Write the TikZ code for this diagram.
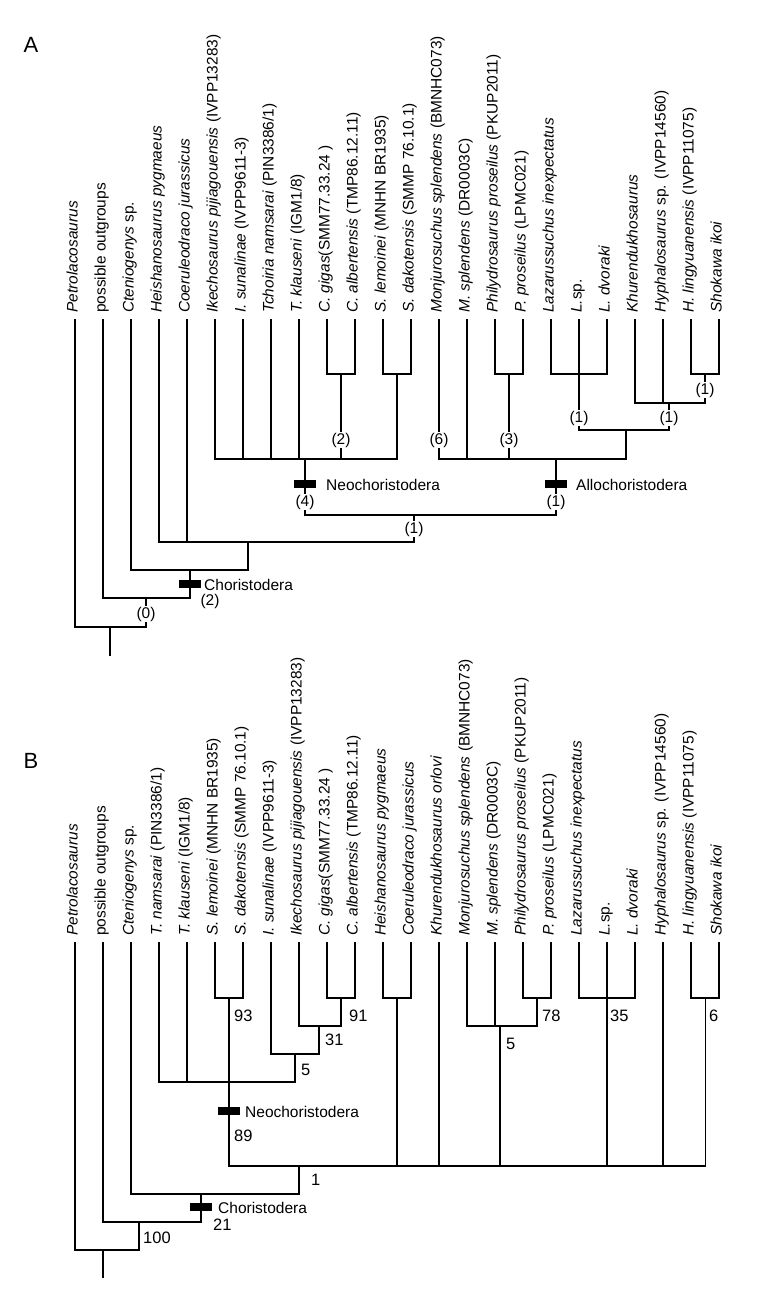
\documentclass[tikz,border=0pt]{standalone}
\usepackage{fontspec}
\setmainfont{Liberation Sans}
\begin{document}
\begin{tikzpicture}[x=1pt,y=-1pt,
  br/.style={line width=1.3pt, line cap=rect},
  thinbr/.style={line width=0.7pt},
  tiplab/.style={rotate=90, xscale=1.01, anchor=mid west, inner sep=0pt, font=\fontsize{15.3}{18}\selectfont},
  num/.style={inner sep=0.6pt, fill=white, font=\fontsize{15.5}{18}\selectfont},
  bnum/.style={anchor=west, inner sep=0pt, font=\fontsize{16.5}{19}\selectfont},
  bar/.style={fill=black, draw=none, minimum width=22pt, minimum height=8pt, inner sep=0pt},
  cladelab/.style={anchor=west, inner sep=0pt, font=\fontsize{15.5}{18}\selectfont},
  panel/.style={font=\fontsize{22}{26}\selectfont, inner sep=0pt}]
\useasboundingbox (0,0) rectangle (764,1300);

\node[panel] (labA) at (31,45) {A};
\node[panel] (labB) at (31,761) {B};

% ---------------- Panel A tips ----------------
\foreach \i/\t in {
 1/{\textit{Petrolacosaurus}},
 2/{possible outgroups},
 3/{\textit{Cteniogenys} sp.},
 4/{\textit{Heishanosaurus pygmaeus}},
 5/{\textit{Coeruleodraco jurassicus}},
 6/{\textit{Ikechosaurus pijiagouensis} (IVPP13283)},
 7/{\textit{I. sunalinae} (IVPP9611-3)},
 8/{\textit{Tchoiria namsarai} (PIN3386/1)},
 9/{\textit{T. klauseni} (IGM1/8)},
 10/{\textit{C. gigas}(SMM77.33.24 )},
 11/{\textit{C. albertensis} (TMP86.12.11)},
 12/{\textit{S. lemoinei} (MNHN BR1935)},
 13/{\textit{S. dakotensis} (SMMP 76.10.1)},
 14/{\textit{Monjurosuchus splendens} (BMNHC073)},
 15/{\textit{M. splendens} (DR0003C)},
 16/{\textit{Philydrosaurus proseilus} (PKUP2011)},
 17/{\textit{P. proseilus} (LPMC021)},
 18/{\textit{Lazarussuchus inexpectatus}},
 19/{\textit{L.}sp.},
 20/{\textit{L. dvoraki}},
 21/{\textit{Khurendukhosaurus}},
 22/{\textit{Hyphalosaurus} sp. (IVPP14560)},
 23/{\textit{H. lingyuanensis} (IVPP11075)},
 24/{\textit{Shokawa ikoi}}}
{
 \pgfmathsetmacro{\xx}{75+28*(\i-1)}
 \node[tiplab] (aL\i) at (\xx,313) {\t};
 \coordinate (aT\i) at (\xx,320);
}

% Panel A internal nodes
\coordinate (aC) at (341,374);
\coordinate (aS) at (397,374);
\coordinate (aP) at (509,374);
\coordinate (aLz) at (579,374);
\coordinate (aH) at (705,374);
\coordinate (aHy) at (669,403);
\coordinate (aLH) at (626,430);
\coordinate (aNeo) at (305,459);
\coordinate (aAllo) at (556,459);
\coordinate (aNA) at (414,515);
\coordinate (aHC) at (248,542);
\coordinate (aCh) at (190,570);
\coordinate (aO) at (146,598);
\coordinate (aR) at (110,627);
\coordinate (aRs) at (110,655);

% pairs
\draw[br] (aT10) -- (aT10 |- aC) -- (aT11 |- aC) -- (aT11);
\draw[br] (aT12) -- (aT12 |- aS) -- (aT13 |- aS) -- (aT13);
\draw[br] (aT16) -- (aT16 |- aP) -- (aT17 |- aP) -- (aT17);
\draw[br] (aT18) -- (aT18 |- aLz) -- (aT20 |- aLz) -- (aT20);
\draw[br] (aT19) -- (aLz);
\draw[br] (aT23) -- (aT23 |- aH) -- (aT24 |- aH) -- (aT24);
% Hyphalosaurus clade
\draw[br] (aT21) -- (aT21 |- aHy) -- (aH |- aHy) -- (aH);
\draw[br] (aT22) -- (aT22 |- aHy);
% Lazarussuchus + Hyphalosaurus
\draw[br] (aLz) -- (aLz |- aLH) -- (aHy |- aLH) -- (aHy);
% Neochoristodera
\draw[br] (aT6) -- (aT6 |- aNeo) -- (aS |- aNeo) -- (aS);
\foreach \k in {7,8,9} \draw[br] (aT\k) -- (aT\k |- aNeo);
\draw[br] (aC) -- (aC |- aNeo);
% Allochoristodera
\draw[br] (aT14) -- (aT14 |- aAllo) -- (aLH |- aAllo) -- (aLH);
\draw[br] (aT15) -- (aT15 |- aAllo);
\draw[br] (aP) -- (aP |- aAllo);
% Neo + Allo
\draw[br] (aNeo) -- (aNeo |- aNA) -- (aAllo |- aNA) -- (aAllo);
% Heishanosaurus, Coeruleodraco + rest
\draw[br] (aT4) -- (aT4 |- aHC) -- (aNA |- aHC) -- (aNA);
\draw[br] (aT5) -- (aT5 |- aHC);
% Choristodera
\draw[br] (aT3) -- (aT3 |- aCh) -- (aHC |- aCh) -- (aHC);
\draw[br] (aT2) -- (aT2 |- aO) -- (aCh |- aO) -- (aCh);
\draw[br] (aT1) -- (aT1 |- aR) -- (aO |- aR) -- (aO);
\draw[br] (aR) -- (aRs);

% Panel A labels
\node[num] (aq0) at (146,614) {(0)};
\node[num] (aq2c) at (341,440) {(2)};
\node[num] (aq6) at (439,440) {(6)};
\node[num] (aq3) at (509,440) {(3)};
\node[num] (aq1l) at (579,418) {(1)};
\node[num] (aq1y) at (669,418) {(1)};
\node[num] (aq1h) at (705,390) {(1)};
\node[num] (aq4) at (305,502) {(4)};
\node[num] (aq1a) at (556,502) {(1)};
\node[num] (aq1n) at (414,529) {(1)};
\node[num] (aq2ch) at (210,601) {(2)};
\node[bar] (aBarCh) at (190,584) {};
\node[cladelab] (aChLab) at (204,585) {Choristodera};
\node[bar] (aBarNeo) at (305,484) {};
\node[cladelab] (aNeoLab) at (326,485) {Neochoristodera};
\node[bar] (aBarAllo) at (556,484) {};
\node[cladelab] (aAlloLab) at (576,485) {Allochoristodera};

% ---------------- Panel B tips ----------------
\foreach \i/\t in {
 1/{\textit{Petrolacosaurus}},
 2/{possible outgroups},
 3/{\textit{Cteniogenys} sp.},
 4/{\textit{T. namsarai} (PIN3386/1)},
 5/{\textit{T. klauseni} (IGM1/8)},
 6/{\textit{S. lemoinei} (MNHN BR1935)},
 7/{\textit{S. dakotensis} (SMMP 76.10.1)},
 8/{\textit{I. sunalinae} (IVPP9611-3)},
 9/{\textit{Ikechosaurus pijiagouensis} (IVPP13283)},
 10/{\textit{C. gigas}(SMM77.33.24 )},
 11/{\textit{C. albertensis} (TMP86.12.11)},
 12/{\textit{Heishanosaurus pygmaeus}},
 13/{\textit{Coeruleodraco jurassicus}},
 14/{\textit{Khurendukhosaurus orlovi}},
 15/{\textit{Monjurosuchus splendens} (BMNHC073)},
 16/{\textit{M. splendens} (DR0003C)},
 17/{\textit{Philydrosaurus proseilus} (PKUP2011)},
 18/{\textit{P. proseilus} (LPMC021)},
 19/{\textit{Lazarussuchus inexpectatus}},
 20/{\textit{L.}sp.},
 21/{\textit{L. dvoraki}},
 22/{\textit{Hyphalosaurus} sp. (IVPP14560)},
 23/{\textit{H. lingyuanensis} (IVPP11075)},
 24/{\textit{Shokawa ikoi}}}
{
 \pgfmathsetmacro{\xx}{75+28*(\i-1)}
 \node[tiplab] (bL\i) at (\xx,936) {\t};
 \coordinate (bT\i) at (\xx,943);
}

% Panel B internal nodes
\coordinate (bS) at (229,998);
\coordinate (bC) at (341,998);
\coordinate (bHC) at (397,998);
\coordinate (bP) at (537,998);
\coordinate (bLz) at (607,998);
\coordinate (bH) at (705,998);
\coordinate (bIC) at (319,1026);
\coordinate (bMon) at (500,1026);
\coordinate (bISC) at (295,1054);
\coordinate (bNeo) at (229,1082);
\coordinate (bAll) at (299,1166);
\coordinate (bCh) at (201,1194);
\coordinate (bO) at (139,1222);
\coordinate (bR) at (103,1250);
\coordinate (bRs) at (103,1277);

\draw[br] (bT6) -- (bT6 |- bS) -- (bT7 |- bS) -- (bT7);
\draw[br] (bT10) -- (bT10 |- bC) -- (bT11 |- bC) -- (bT11);
\draw[br] (bT12) -- (bT12 |- bHC) -- (bT13 |- bHC) -- (bT13);
\draw[br] (bT17) -- (bT17 |- bP) -- (bT18 |- bP) -- (bT18);
\draw[br] (bT19) -- (bT19 |- bLz) -- (bT21 |- bLz) -- (bT21);
\draw[br] (bT23) -- (bT23 |- bH) -- (bT24 |- bH) -- (bT24);
% Ikechosaurus + C
\draw[br] (bT9) -- (bT9 |- bIC) -- (bC |- bIC) -- (bC);
% I. sunalinae + (Ike + C)
\draw[br] (bT8) -- (bT8 |- bISC) -- (bIC |- bISC) -- (bIC);
% Neochoristodera
\draw[br] (bT4) -- (bT4 |- bNeo) -- (bISC |- bNeo) -- (bISC);
\draw[br] (bT5) -- (bT5 |- bNeo);
\draw[br] (bS) -- (bNeo);
% Monjurosuchus group
\draw[br] (bT15) -- (bT15 |- bMon) -- (bP |- bMon) -- (bP);
\draw[br] (bT16) -- (bT16 |- bMon);
% big polytomy
\draw[br] (bNeo) -- (bNeo |- bAll) -- (bH |- bAll);
\draw[br] (bHC) -- (bHC |- bAll);
\draw[br] (bT14) -- (bT14 |- bAll);
\draw[br] (bMon) -- (bMon |- bAll);
\draw[br] (bT20) -- (bT20 |- bAll);
\draw[br] (bT22) -- (bT22 |- bAll);
\draw[thinbr] (bH) -- (bH |- bAll);
% base
\draw[br] (bT3) -- (bT3 |- bCh) -- (bAll |- bCh) -- (bAll);
\draw[br] (bT2) -- (bT2 |- bO) -- (bCh |- bO) -- (bCh);
\draw[br] (bT1) -- (bT1 |- bR) -- (bO |- bR) -- (bO);
\draw[br] (bR) -- (bRs);

% Panel B labels
\node[bnum] (bn100) at (143,1238) {100};
\node[bnum] (bn21) at (213,1225) {21};
\node[bnum] (bn1) at (311,1180) {1};
\node[bnum] (bn89) at (234,1136) {89};
\node[bnum] (bn93) at (234,1016) {93};
\node[bnum] (bn5a) at (301,1070) {5};
\node[bnum] (bn31) at (325,1040) {31};
\node[bnum] (bn91) at (349,1016) {91};
\node[bnum] (bn5b) at (506,1044) {5};
\node[bnum] (bn78) at (542,1016) {78};
\node[bnum] (bn35) at (610,1016) {35};
\node[bnum] (bn6) at (709,1016) {6};
\node[bar] (bBarCh) at (201,1207) {};
\node[cladelab] (bChLab) at (218,1208) {Choristodera};
\node[bar] (bBarNeo) at (229,1111) {};
\node[cladelab] (bNeoLab) at (245,1112) {Neochoristodera};
\end{tikzpicture}
\end{document}
